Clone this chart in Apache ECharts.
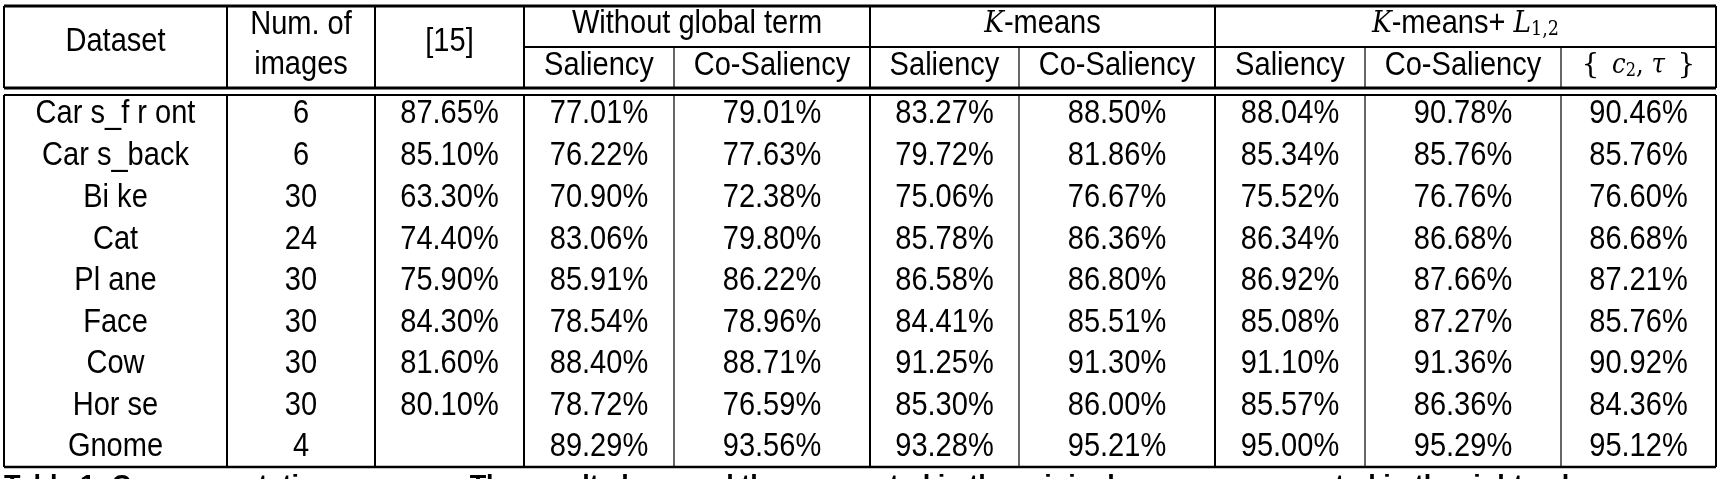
<!DOCTYPE html>
<html><head><meta charset="utf-8">
<script src="https://cdn.jsdelivr.net/npm/echarts@6/dist/echarts.min.js"></script>
<style>html,body{margin:0;padding:0;background:#fff}#c{width:1721px;height:479px}</style>
</head><body><div id="c"></div>
<script>
const datasets = ["Car s_f r ont","Car s_back","Bi ke","Cat","Pl ane","Face","Cow","Hor se","Gnome"];
const numImages = ["6","6","30","24","30","30","30","30","4"];
const ref15 = ["87.65%","85.10%","63.30%","74.40%","75.90%","84.30%","81.60%","80.10%",""];
const woSal = ["77.01%","76.22%","70.90%","83.06%","85.91%","78.54%","88.40%","78.72%","89.29%"];
const woCo = ["79.01%","77.63%","72.38%","79.80%","86.22%","78.96%","88.71%","76.59%","93.56%"];
const kmSal = ["83.27%","79.72%","75.06%","85.78%","86.58%","84.41%","91.25%","85.30%","93.28%"];
const kmCo = ["88.50%","81.86%","76.67%","86.36%","86.80%","85.51%","91.30%","86.00%","95.21%"];
const klSal = ["88.04%","85.34%","75.52%","86.34%","86.92%","85.08%","91.10%","85.57%","95.00%"];
const klCo = ["90.78%","85.76%","76.76%","86.68%","87.66%","87.27%","91.36%","86.36%","95.29%"];
const klC2 = ["90.46%","85.76%","76.60%","86.68%","87.21%","85.76%","90.92%","84.36%","95.12%"];
const groupHeaders = ["Without global term","K-means","K-means+ L1,2"];
const subHeaders = ["Saliency","Co-Saliency","Saliency","Co-Saliency","Saliency","Co-Saliency","{c2, τ}"];
const caption = "Table 1: Co-segmentation accuracy. The results here and those reported in the original papers are reported in the right columns.";

// layout (pixels)
const colX = [4,227,375,524,674,870,1019,1215,1365,1561,1716];
const rowY = [114,156,198,240,281,323,364,406,447];
const FONT = '"Liberation Sans",Arial,sans-serif';
const FS = 33, SX = 0.88;
const columns = [datasets,numImages,ref15,woSal,woCo,kmSal,kmCo,klSal,klCo,klC2];

const cells = [];
columns.forEach((col,ci)=>col.forEach((v,ri)=>cells.push([ci,ri,v])));

const lines = [
 [colX[0],6,colX[10],6,3],
 [colX[3],47,colX[10],47,2],
 [colX[0],88,colX[10],88,3],
 [colX[0],95,colX[10],95,2],
 [colX[0],467,colX[10],467,2.5],
];
[0,1,2,3,5,7,10].forEach(i=>{lines.push([colX[i],6,colX[i],88,2]);lines.push([colX[i],95,colX[i],467,2]);});
[4,6,8,9].forEach(i=>{lines.push([colX[i],47,colX[i],88,1.2]);lines.push([colX[i],95,colX[i],467,1.2]);});

function cx(i){return (colX[i]+colX[i+1])/2;}

const headerTexts = [
 {x:cx(0),y:42,t:"Dataset"},
 {x:cx(1),y:25,t:"Num. of"},
 {x:cx(1),y:65,t:"images"},
 {x:cx(2),y:42,t:"[15]"},
 {x:(colX[3]+colX[5])/2,y:24,t:groupHeaders[0]},
];
subHeaders.forEach((s,k)=>{ if(k<6) headerTexts.push({x:cx(3+k),y:66,t:s}); });

function txt(pt,t){return {type:'text',x:pt[0],y:pt[1],scaleX:SX,style:{text:t,font:`${FS}px ${FONT}`,fill:'#000',align:'center',verticalAlign:'middle'}};}

const chart = echarts.init(document.getElementById('c'),null,{renderer:'canvas'});
chart.setOption({
 animation:false,
 grid:{left:0,right:0,top:0,bottom:0},
 xAxis:{type:'value',min:0,max:1721,show:false},
 yAxis:{type:'value',min:0,max:479,inverse:true,show:false},
 series:[
  {type:'custom',data:lines,renderItem:(p,api)=>{
    const a=api.coord([api.value(0),api.value(1)]),b=api.coord([api.value(2),api.value(3)]);
    return {type:'line',shape:{x1:a[0],y1:a[1],x2:b[0],y2:b[1]},style:{stroke:'#000',lineWidth:api.value(4)}};
  }},
  {type:'custom',data:cells,renderItem:(p,api)=>{
    const pt=api.coord([cx(api.value(0)),rowY[api.value(1)]]);
    return txt(pt,cells[p.dataIndex][2]);
  }},
  {type:'custom',data:headerTexts.map((h,i)=>[h.x,h.y,i]),renderItem:(p,api)=>{
    const h=headerTexts[p.dataIndex];
    return txt(api.coord([h.x,h.y]),h.t);
  }},
  {type:'custom',data:[[0]],renderItem:(p,api)=>{
    const g=[];
    const rich={i:{font:`italic 30px "DejaVu Serif",serif`},n:{font:`${FS}px ${FONT}`},s:{font:`20px "DejaVu Serif",serif`,padding:[12,0,0,0]}};
    const k1=api.coord([(colX[5]+colX[7])/2,24]);
    g.push({type:'text',x:k1[0],y:k1[1],scaleX:SX,style:{rich,text:'{i|K}{n|-means}',align:'center',verticalAlign:'middle'}});
    const k2=api.coord([(colX[7]+colX[10])/2,24]);
    g.push({type:'text',x:k2[0],y:k2[1],scaleX:SX,style:{rich,text:'{i|K}{n|-means+ }{i|L}{s|1,2}',align:'center',verticalAlign:'middle'}});
    const k3=api.coord([cx(9),66]);
    g.push({type:'text',x:k3[0]-48,y:k3[1],style:{text:'{',font:`28px "DejaVu Serif",serif`,align:'center',verticalAlign:'middle'}});
    g.push({type:'text',x:k3[0]+48,y:k3[1],style:{text:'}',font:`28px "DejaVu Serif",serif`,align:'center',verticalAlign:'middle'}});
    const rich2={i:{font:`italic 27px "DejaVu Serif",serif`},n:{font:`27px "DejaVu Serif",serif`},s:{font:`18px "DejaVu Serif",serif`,padding:[10,0,0,0]}};
    g.push({type:'text',x:k3[0],y:k3[1],scaleX:0.9,style:{rich:rich2,text:'{i|c}{s|2}{n|, }{i|τ}',align:'center',verticalAlign:'middle'}});
    const k4=api.coord([4,473]);
    g.push({type:'text',x:k4[0],y:k4[1],style:{text:caption,font:`bold 27px "Liberation Sans",Arial,sans-serif`,fill:'#000',align:'left',verticalAlign:'top'}});
    return {type:'group',children:g};
  }}
 ]
});
</script></body></html>
